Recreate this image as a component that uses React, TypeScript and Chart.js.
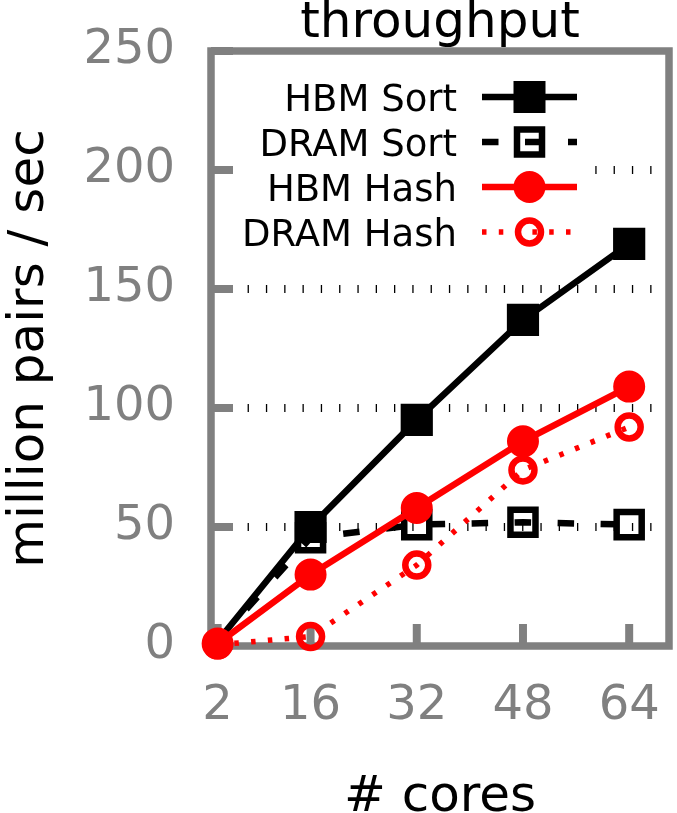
import React, { useEffect, useRef } from 'react';
import { Chart, registerables } from 'chart.js';

Chart.register(...registerables);

// ---- data ----
const cores = [2, 16, 32, 48, 64];
const hbmSort = [2, 50, 95, 137, 169];
const dramSort = [2, 45.5, 51, 52, 51];
const hbmHash = [1, 30, 58, 86, 109];
const dramHash = [0.5, 4, 34, 74, 92];
const xTickValues = [2, 16, 32, 48, 64];
const yTickValues = [0, 50, 100, 150, 200, 250];
const seriesNames = ['HBM Sort', 'DRAM Sort', 'HBM Hash', 'DRAM Hash'];
const chartTitle = 'throughput';
const xTitle = '# cores';
const yTitle = 'million pairs / sec';

const FONT = '"DejaVu Sans", "Liberation Sans", sans-serif';
const GRAY = '#808080';
const RED = '#ff0000';
const BLACK = '#000000';
const CLEAR = 'rgba(0,0,0,0)';
const SORT_DASH = [16.5, 26.5];
const HASH_DOT = [4.5, 12.3];

type Marker = 'fsq' | 'osq' | 'fci' | 'oci';
const legendStyles: { color: string; dash: number[]; marker: Marker }[] = [
  { color: BLACK, dash: [], marker: 'fsq' },
  { color: BLACK, dash: SORT_DASH, marker: 'osq' },
  { color: RED, dash: [], marker: 'fci' },
  { color: RED, dash: HASH_DOT, marker: 'oci' },
];

function drawMarker(ctx: CanvasRenderingContext2D, m: Marker, color: string, x: number, y: number) {
  ctx.save();
  ctx.setLineDash([]);
  ctx.fillStyle = color;
  ctx.strokeStyle = color;
  if (m === 'fsq') {
    ctx.fillRect(x - 16, y - 16, 32, 32);
  } else if (m === 'osq') {
    ctx.lineWidth = 6.5;
    ctx.strokeRect(x - 12.5, y - 12.5, 25, 25);
  } else if (m === 'fci') {
    ctx.beginPath();
    ctx.arc(x, y, 16, 0, Math.PI * 2);
    ctx.fill();
  } else {
    ctx.lineWidth = 6.5;
    ctx.beginPath();
    ctx.arc(x, y, 11.5, 0, Math.PI * 2);
    ctx.stroke();
  }
  ctx.restore();
}

const decorPlugin = {
  id: 'decor',
  beforeDatasetsDraw(chart: any) {
    const { ctx, chartArea: a, scales } = chart;
    const xs = scales.x;
    const ys = scales.y;
    ctx.save();

    // legend background box (covers grid)
    ctx.fillStyle = '#ffffff';
    ctx.fillRect(a.left + 25, a.top + 7, 356, 204);

    // tick marks (inside, gray)
    ctx.strokeStyle = GRAY;
    ctx.lineWidth = 8;
    ctx.lineCap = 'butt';
    ctx.setLineDash([]);
    yTickValues.forEach((v) => {
      const py = ys.getPixelForValue(v);
      ctx.beginPath();
      ctx.moveTo(a.left, py);
      ctx.lineTo(a.left + 22, py);
      ctx.stroke();
    });
    xTickValues.forEach((v) => {
      const px = xs.getPixelForValue(v);
      ctx.beginPath();
      ctx.moveTo(px, a.bottom);
      ctx.lineTo(px, a.bottom - 22);
      ctx.stroke();
    });

    // border
    ctx.lineWidth = 7.5;
    ctx.strokeRect(a.left, a.top, a.right - a.left, a.bottom - a.top);

    // legend entries
    const textRight = a.left + 246;
    const lineStart = a.left + 271;
    const lineEnd = a.left + 366;
    const markX = (lineStart + lineEnd) / 2;
    ctx.font = `37px ${FONT}`;
    ctx.textAlign = 'right';
    ctx.textBaseline = 'alphabetic';
    seriesNames.forEach((name, i) => {
      const st = legendStyles[i];
      const ry = a.top + 46 + i * 45;
      ctx.fillStyle = BLACK;
      ctx.fillText(name, textRight, ry + 14);
      ctx.strokeStyle = st.color;
      ctx.lineWidth = st.marker === 'oci' ? 5.5 : 6.5;
      ctx.setLineDash(st.dash);
      ctx.lineDashOffset = 0;
      ctx.beginPath();
      ctx.moveTo(lineStart, ry);
      ctx.lineTo(lineEnd, ry);
      ctx.stroke();
      ctx.setLineDash([]);
      drawMarker(ctx, st.marker, st.color, markX, ry);
    });

    // titles
    const cx = (a.left + a.right) / 2;
    ctx.fillStyle = BLACK;
    ctx.font = `50px ${FONT}`;
    ctx.textAlign = 'center';
    ctx.textBaseline = 'alphabetic';
    ctx.fillText(chartTitle, cx, 37);
    ctx.fillText(xTitle, cx, 811);
    ctx.save();
    ctx.translate(43, (a.top + a.bottom) / 2);
    ctx.rotate(-Math.PI / 2);
    ctx.fillText(yTitle, 0, 0);
    ctx.restore();

    ctx.restore();
  },
};

function toPoints(vals: number[]) {
  return cores.map((c, i) => ({ x: c, y: vals[i] }));
}

export default function App() {
  const canvasRef = useRef<HTMLCanvasElement | null>(null);

  useEffect(() => {
    const canvas = canvasRef.current;
    if (!canvas) return;
    const chart = new Chart(canvas, {
      type: 'line',
      data: {
        datasets: [
          {
            label: seriesNames[0],
            data: toPoints(hbmSort),
            borderColor: BLACK,
            borderWidth: 6.5,
            pointStyle: 'rect',
            pointRadius: (c: any) => (c.dataIndex === 0 ? 0 : 21),
            pointBorderWidth: 2.5,
            pointBackgroundColor: BLACK,
            pointBorderColor: BLACK,
            order: 4,
          },
          {
            label: seriesNames[1],
            data: toPoints(dramSort),
            borderColor: BLACK,
            borderWidth: 6.5,
            borderDash: SORT_DASH,
            pointStyle: 'rect',
            pointRadius: (c: any) => (c.dataIndex === 0 ? 0 : 17.7),
            pointBorderWidth: 6.5,
            pointBackgroundColor: CLEAR,
            pointBorderColor: BLACK,
            order: 3,
          },
          {
            label: seriesNames[2],
            data: toPoints(hbmHash),
            borderColor: RED,
            borderWidth: 6.5,
            pointStyle: 'circle',
            pointRadius: 14.5,
            pointBorderWidth: 3,
            pointBackgroundColor: RED,
            pointBorderColor: RED,
            order: 2,
          },
          {
            label: seriesNames[3],
            data: toPoints(dramHash),
            borderColor: RED,
            borderWidth: 5.5,
            borderDash: HASH_DOT,
            pointStyle: 'circle',
            pointRadius: 11.5,
            pointBorderWidth: 6.5,
            pointBackgroundColor: CLEAR,
            pointBorderColor: RED,
            order: 1,
          },
        ] as any,
      },
      options: {
        animation: false,
        responsive: false,
        maintainAspectRatio: false,
        events: [],
        layout: { autoPadding: false, padding: { top: 51, right: 8, left: 0, bottom: 0 } },
        datasets: { line: { clip: false as any, tension: 0 } } as any,
        plugins: {
          legend: { display: false },
          title: { display: false },
          tooltip: { enabled: false },
        },
        scales: {
          x: {
            type: 'linear',
            min: 1,
            max: 70,
            afterFit: (s: any) => {
              s.height = 167;
              s.paddingLeft = 0;
              s.paddingRight = 0;
              s.paddingTop = 0;
              s.paddingBottom = 0;
            },
            afterBuildTicks: (s: any) => {
              s.ticks = xTickValues.map((v) => ({ value: v }));
            },
            grid: { display: false, drawTicks: false },
            border: { display: false },
            ticks: {
              color: GRAY,
              font: { family: FONT, size: 48 },
              padding: 32,
              maxRotation: 0,
              autoSkip: false,
            },
          },
          y: {
            type: 'linear',
            min: 0,
            max: 250,
            afterFit: (s: any) => {
              s.width = 211;
              s.paddingLeft = 0;
              s.paddingRight = 0;
              s.paddingTop = 0;
              s.paddingBottom = 0;
            },
            afterBuildTicks: (s: any) => {
              s.ticks = yTickValues.map((v) => ({ value: v }));
            },
            grid: {
              drawTicks: false,
              lineWidth: 8,
              color: (c: any) =>
                c.tick && (c.tick.value === 0 || c.tick.value === 250) ? CLEAR : BLACK,
            },
            border: { display: false, dash: [1.3, 17], dashOffset: 0 },
            ticks: {
              color: GRAY,
              font: { family: FONT, size: 48 },
              padding: 36,
            },
          },
        },
      } as any,
      plugins: [decorPlugin],
    });
    return () => chart.destroy();
  }, []);

  return (
    <div style={{ position: 'absolute', left: 0, top: 0, width: 677, height: 813, background: '#fff' }}>
      <canvas ref={canvasRef} width={677} height={813} style={{ display: 'block', width: 677, height: 813 }} />
    </div>
  );
}
